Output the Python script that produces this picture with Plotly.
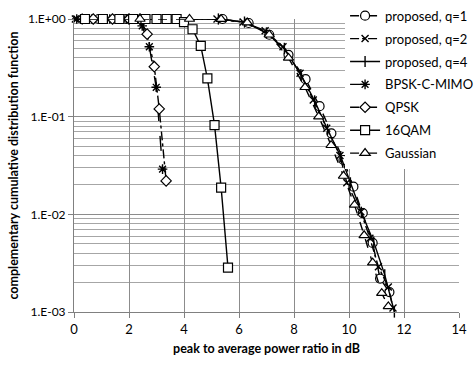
import plotly.graph_objects as go

# ---- data ----
q1_x = [0.9, 1.9, 5.4, 6.35, 7.1, 7.8, 8.42, 8.93, 9.36, 9.8, 10.16, 10.5, 10.86, 11.13, 11.47]
q1_y = [1.0, 1.0, 1.0, 0.91, 0.69, 0.43, 0.242, 0.128, 0.0676, 0.036, 0.0192, 0.0103, 0.0051, 0.0022, 0.0016]

q2_x = [0.05, 5.2, 6.15, 6.95, 7.6, 8.22, 8.7, 9.19, 9.67, 9.92, 10.43, 10.76, 11.07, 11.43, 11.6]
q2_y = [1.0, 1.0, 0.93, 0.76, 0.52, 0.278, 0.148, 0.076, 0.04, 0.021, 0.0106, 0.0057, 0.0029, 0.0018, 0.0011]

q4_x = [0.3, 5.25, 6.2, 7.0, 7.65, 8.25, 8.75, 9.22, 9.7, 10.05, 10.45, 10.9, 11.3, 11.65]
q4_y = [1.0, 1.0, 0.93, 0.72, 0.5, 0.27, 0.145, 0.074, 0.039, 0.021, 0.0105, 0.0052, 0.0024, 0.001]

bpsk_x = [0.1, 0.65, 1.3, 1.9, 2.2, 2.48, 2.74, 2.99, 3.22]
bpsk_y = [1.0, 1.0, 1.0, 1.0, 1.0, 0.85, 0.52, 0.2, 0.029]

qpsk_x = [0.7, 1.4, 2.0, 2.4, 2.66, 2.92, 3.1, 3.35]
qpsk_y = [1.0, 1.0, 1.0, 1.0, 0.70, 0.325, 0.12, 0.022]

qam_x = [0.4, 1.05, 1.65, 2.15, 2.6, 3.0, 3.37, 3.73, 4.0, 4.31, 4.61, 4.85, 5.11, 5.35, 5.6]
qam_y = [1.0, 1.0, 1.0, 1.0, 1.0, 1.0, 1.0, 1.0, 0.93, 0.785, 0.53, 0.247, 0.082, 0.0188, 0.00285]

gauss_x = [2.4, 4.2, 5.35, 6.3, 7.1, 7.8, 8.4, 8.9, 9.35, 9.8, 10.2, 10.55, 10.86, 11.19, 11.43]
gauss_y = [1.0, 1.0, 0.995, 0.92, 0.69, 0.40, 0.20, 0.10, 0.051, 0.0247, 0.0125, 0.0061, 0.0032, 0.00156, 0.00114]

names = ["proposed, q=1", "proposed, q=2", "proposed, q=4", "BPSK-C-MIMO", "QPSK", "16QAM", "Gaussian"]

y_tickvals = [1e-3, 1e-2, 1e-1, 1]
y_ticktext = ["1.E-03", "1.E-02", "1.E-01", "1.E+00"]
x_tickvals = [0, 2, 4, 6, 8, 10, 12, 14]

FONT = "Lato, 'Open Sans', sans-serif"

series = [
    (q1_x, q1_y, "dash", dict(symbol="circle", size=9, color="white", line=dict(color="black", width=1.2))),
    (q2_x, q2_y, "dashdot", dict(symbol="x-thin-open", size=7, color="black", line=dict(color="black", width=1.4))),
    (q4_x, q4_y, "solid", dict(symbol="line-ns-open", size=8, color="black", line=dict(color="black", width=1.4))),
    (bpsk_x, bpsk_y, "longdash", dict(symbol="asterisk-open", size=8, color="black", line=dict(color="black", width=1.4))),
    (qpsk_x, qpsk_y, "dashdot", dict(symbol="diamond", size=8, color="white", line=dict(color="black", width=1.2))),
    (qam_x, qam_y, "solid", dict(symbol="square", size=9, color="white", line=dict(color="black", width=1.2))),
    (gauss_x, gauss_y, "dash", dict(symbol="triangle-up", size=9, color="white", line=dict(color="black", width=1.2))),
]

fig = go.Figure()
for i, (xs, ys, dash, mk) in enumerate(series):
    fig.add_trace(go.Scatter(
        x=xs, y=ys, name=names[i], mode="lines+markers",
        line=dict(color="black", width=1.4, dash=dash),
        marker=mk, cliponaxis=False, legendgroup=f"g{i}",
    ))

minor_vals = [k * 10.0 ** e for e in (-3, -2, -1) for k in range(2, 10)]

fig.update_layout(
    width=474, height=366,
    margin=dict(l=74, r=15, t=19, b=54, autoexpand=False),
    paper_bgcolor="white", plot_bgcolor="white",
    font=dict(family=FONT, size=13, color="black"),
    showlegend=True,
    legend=dict(
        xref="container", yref="container",
        x=0.728, y=0.998, xanchor="left", yanchor="top",
        bgcolor="white", borderwidth=0,
        font=dict(family=FONT, size=13, color="black"),
        tracegroupgap=3, itemwidth=30,
    ),
    xaxis=dict(
        range=[0, 14], tickvals=x_tickvals,
        showgrid=True, gridcolor="#8c8c8c", gridwidth=1,
        showline=True, linecolor="#808080", linewidth=1,
        ticks="outside", ticklen=5, tickcolor="#808080",
        zeroline=False, automargin=False,
        tickfont=dict(family=FONT, size=13),
        title=dict(text="<b>peak to average power ratio in dB</b>", font=dict(family=FONT, size=12.5), standoff=8),
    ),
    yaxis=dict(
        type="log", range=[-3, 0],
        tickvals=y_tickvals, ticktext=y_ticktext,
        showgrid=True, gridcolor="#8c8c8c", gridwidth=1,
        showline=True, linecolor="#808080", linewidth=1,
        ticks="outside", ticklen=5, tickcolor="#808080",
        zeroline=False, automargin=False,
        tickfont=dict(family=FONT, size=12),
        minor=dict(tickvals=minor_vals, showgrid=True, gridcolor="#a6a6a6", gridwidth=1, ticks=""),
        title=dict(text="<b>complementary cumulative distribution function</b>", font=dict(family=FONT, size=12.5), standoff=6),
    ),
)

fig.write_html(
    "out.html",
    config={"displayModeBar": False},
    post_script="document.body.style.margin='0';document.body.style.overflow='hidden';",
)
